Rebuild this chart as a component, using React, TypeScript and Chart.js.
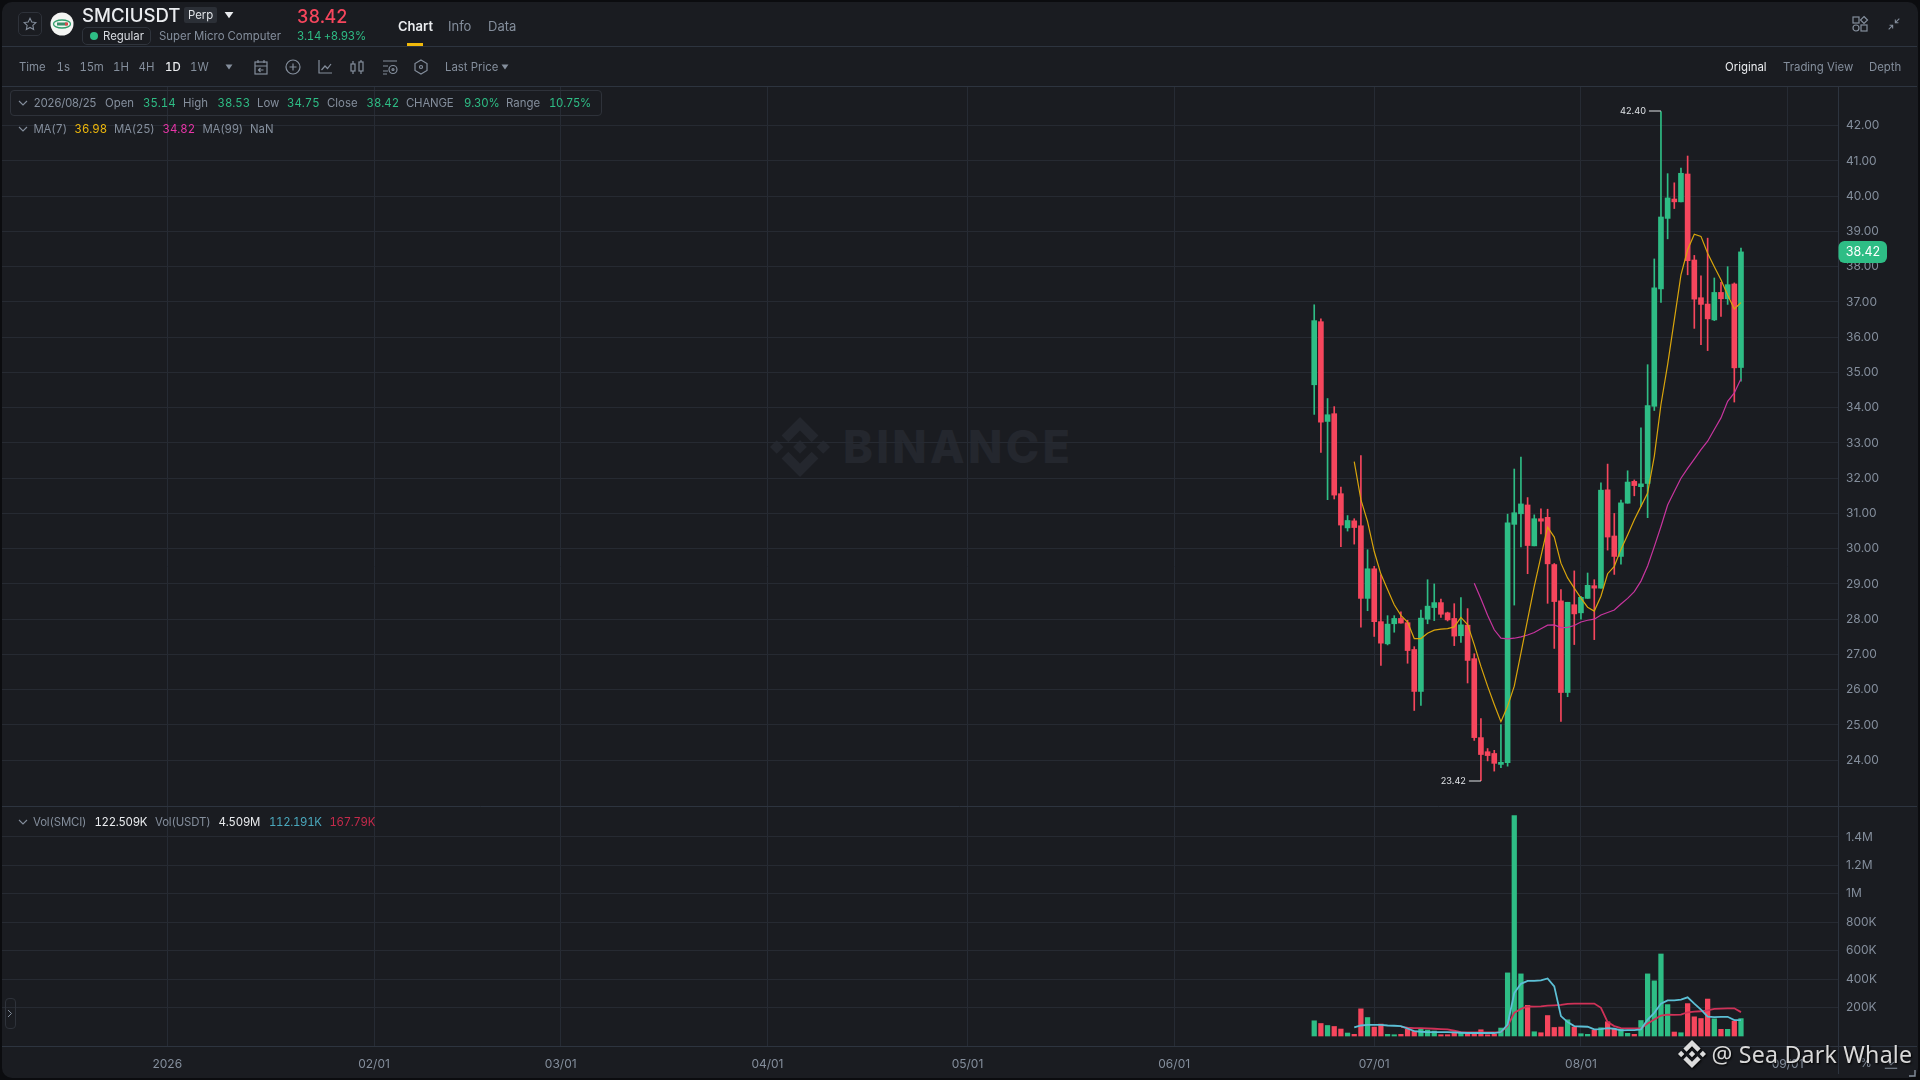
import React, { useEffect, useRef } from "react";
import { Chart, registerables } from "chart.js";

Chart.register(...registerables);

// ---- data ----
const firstCandleDay = 172; // days since 2026-01-01 (06/22)
const opens = [34.65,36.44,33.61,33.83,31.56,30.59,30.79,30.65,28.59,29.43,27.93,27.30,27.87,28.02,27.90,27.14,25.95,28.00,28.33,28.47,28.18,28.02,27.53,27.83,26.88,24.64,24.24,24.19,23.88,23.93,30.69,30.99,31.24,30.08,30.85,30.89,29.55,28.52,25.92,28.41,28.18,28.59,28.95,28.88,31.67,30.36,29.78,31.29,31.91,31.76,31.85,34.04,37.37,39.37,39.92,39.84,40.63,38.19,37.12,36.94,36.49,37.27,37.09,37.51,35.14];
const closes = [36.47,33.59,33.80,31.52,30.67,30.80,30.60,28.59,29.43,27.93,27.32,27.86,28.02,27.89,27.11,25.95,28.03,28.37,28.47,28.14,27.98,27.52,27.84,26.83,24.64,24.16,24.13,23.91,23.94,30.73,31.02,31.27,30.09,30.85,30.78,29.57,28.50,25.92,28.48,28.15,28.62,28.96,28.88,31.66,30.33,29.78,31.30,31.89,31.79,31.84,34.06,37.40,39.41,39.95,39.84,40.65,38.17,37.08,36.93,36.52,37.27,37.09,37.49,35.13,38.42];
const highs = [36.92,36.52,34.26,34.03,31.75,30.94,30.85,32.64,29.97,29.50,29.26,28.10,28.10,28.21,27.97,27.22,28.26,29.12,29.00,28.57,28.20,28.44,28.61,28.30,27.02,25.18,24.33,24.28,25.01,30.98,32.26,32.60,31.45,30.96,31.13,31.12,29.58,28.84,28.48,29.37,28.65,29.31,29.12,31.87,32.40,31.00,31.38,32.21,31.95,33.43,35.22,38.22,42.40,40.64,40.38,40.80,41.14,38.32,37.74,38.81,37.68,37.56,38.00,37.54,38.53];
const lows = [33.81,32.73,31.39,31.41,30.06,30.50,30.13,27.77,28.24,27.51,26.69,27.27,27.63,27.89,26.75,25.41,25.55,27.87,27.96,28.05,27.95,27.25,27.34,26.19,24.56,23.42,23.98,23.69,23.79,23.83,28.40,30.05,29.29,30.08,30.42,28.45,27.17,25.10,25.80,27.28,28.00,28.59,27.42,28.88,29.96,29.27,29.56,31.29,31.50,31.20,30.88,33.92,36.99,38.79,39.65,39.84,37.77,36.25,35.79,35.62,36.47,36.59,36.93,34.16,34.75];
const ma7 = [null,null,null,null,null,null,32.47,31.39,30.77,29.92,29.28,28.84,28.41,28.11,27.92,27.45,27.45,27.60,27.69,27.72,27.73,27.78,28.05,27.85,27.28,26.66,26.10,25.58,25.09,25.53,26.10,27.04,27.99,28.93,29.78,30.61,30.33,29.59,29.17,28.88,28.60,28.34,28.23,28.65,29.29,29.50,29.98,30.39,30.82,31.20,31.58,32.62,34.09,35.22,36.49,37.77,38.48,38.92,38.86,38.38,38.00,37.63,37.20,36.80,36.98];
const ma25 = [null,null,null,null,null,null,null,null,null,null,null,null,null,null,null,null,null,null,null,null,null,null,null,null,29.02,28.58,28.11,27.70,27.46,27.44,27.46,27.50,27.55,27.62,27.73,27.83,27.84,27.76,27.77,27.82,27.92,27.97,28.00,28.12,28.19,28.26,28.43,28.59,28.78,29.08,29.51,30.06,30.63,31.24,31.62,32.00,32.28,32.54,32.81,33.05,33.38,33.71,34.18,34.42,34.82];
const volumes = [107,88,74,67,49,21,12,191,130,63,84,12,9,12,47,35,47,42,35,9,9,28,23,19,23,44,9,14,56,444,1550,437,216,30,23,144,60,63,114,63,16,12,42,58,100,49,49,19,12,109,437,388,577,221,28,23,228,135,123,260,121,47,47,105,122.5];
const volMaFast = [null,null,null,null,null,null,60,74,79,79,79,74,72,70,53,35,30,28,28,28,28,26,23,21,21,21,21,21,28,81,302,367,388,388,391,405,349,140,98,70,67,65,47,49,56,51,40,42,42,47,116,163,228,251,251,256,272,228,186,137,133,135,135,112,112.2];
const volMaSlow = [null,null,null,null,null,null,null,null,null,null,null,null,null,65,58,56,56,53,51,49,47,37,28,26,26,26,26,26,28,70,163,191,209,207,209,214,216,219,226,228,228,228,228,198,98,70,56,53,53,53,88,116,144,151,149,151,167,172,174,181,191,193,195,195,167.8];
const priceTicks = [24,25,26,27,28,29,30,31,32,33,34,35,36,37,38,39,40,41,42];
const volTicks = [200,400,600,800,1000,1200,1400];
const volTickLabels = ["200K","400K","600K","800K","1M","1.2M","1.4M"];
const monthTicks = [0,31,59,90,120,151,181,212,243];
const monthLabels = ["2026","02/01","03/01","04/01","05/01","06/01","07/01","08/01","09/01"];
const lastPrice = 38.42;

const UP = "#2ebd85";
const DOWN = "#f6465d";
const GRID = "#262a32";
const VGRID = "#262b34";
const RULE = "#2d343f";
const MUTED = "#848e9c";
const FONT = "Inter, 'Noto Sans', sans-serif";

const candleColors = closes.map((c, i) => (c >= opens[i] ? UP : DOWN));
const dayOf = (i: number) => firstCandleDay + i;
const series = (arr: (number | null)[]) => arr.map((v, i) => ({ x: dayOf(i), y: v }));

const extrasPlugin = {
  id: "extras",
  afterDraw(chart: any) {
    const { ctx, chartArea, scales } = chart;
    const x = scales.x, yp = scales.yPrice;
    ctx.save();
    // pane dividers and axis continuation
    ctx.strokeStyle = RULE;
    ctx.lineWidth = 1;
    ctx.beginPath();
    const dividerY = Math.round(yp.bottom) + 0.5;
    ctx.moveTo(chartArea.left, dividerY); ctx.lineTo(chart.width - 3, dividerY);
    ctx.moveTo(chartArea.left, chartArea.bottom + 0.5); ctx.lineTo(chart.width - 3, chartArea.bottom + 0.5);
    ctx.moveTo(chartArea.right + 0.5, chartArea.bottom); ctx.lineTo(chartArea.right + 0.5, chart.height - 6);
    ctx.stroke();
    // high / low marks
    const hi = highs.indexOf(Math.max(...highs));
    const lo = lows.indexOf(Math.min(...lows));
    ctx.font = `9.2px ${FONT}`;
    ctx.textBaseline = "middle";
    ctx.textAlign = "right";
    ctx.fillStyle = "#dfe2e6";
    ctx.strokeStyle = "#dfe2e6";
    [[hi, highs[hi], -1], [lo, lows[lo], 0]].forEach(([i, v, nudge]) => {
      const px = x.getPixelForValue(dayOf(i));
      const py = Math.floor(yp.getPixelForValue(v)) + 0.5 + nudge + 0.5;
      ctx.beginPath(); ctx.moveTo(px, py); ctx.lineTo(px - 12, py); ctx.stroke();
      ctx.fillText(v.toFixed(2), px - 15, py + 0.5);
    });
    // last-price tag
    const tagY = yp.getPixelForValue(lastPrice);
    ctx.fillStyle = UP;
    ctx.beginPath();
    ctx.roundRect(chartArea.right + 0.5, tagY - 11, 48.5, 22, 6);
    ctx.fill();
    ctx.fillStyle = "#ffffff";
    ctx.textAlign = "center";
    ctx.font = `12.5px ${FONT}`;
    ctx.fillText(lastPrice.toFixed(2), chartArea.right + 25, tagY + 0.5);
    ctx.restore();
  },
};

const T = ({ x, y, c = MUTED, s = 11.4, w = 400, f = FONT, children, ls }: any) => (
  <div style={{ position: "absolute", left: x, top: y, transform: "translateY(-50%)", color: c, fontSize: s, fontWeight: w, fontFamily: f, whiteSpace: "nowrap", lineHeight: 1, letterSpacing: ls, fontVariantNumeric: "tabular-nums" }}>{children}</div>
);

const Box = ({ x, y, w, h, b, bg, r = 0 }: any) => (
  <div style={{ position: "absolute", left: x, top: y, width: w, height: h, boxSizing: "border-box", border: b ? `1px solid ${b}` : undefined, background: bg, borderRadius: r }} />
);

const Caret = ({ x, y, c = MUTED, s = 4 }: any) => (
  <svg style={{ position: "absolute", left: x - s, top: y - s }} width={s * 2} height={s * 2} viewBox="0 0 8 8"><path d="M0.5 1.5H7.5L4 6.5Z" fill={c} /></svg>
);

const Chevron = ({ x, y }: any) => (
  <svg style={{ position: "absolute", left: x - 5, top: y - 4 }} width="10" height="8" viewBox="0 0 10 8"><path d="M1 2L5 6L9 2" stroke={MUTED} strokeWidth="1.1" fill="none" /></svg>
);

const Icon = ({ x, y, size = 18, children, stroke = MUTED }: any) => (
  <svg style={{ position: "absolute", left: x - size / 2, top: y - size / 2 }} width={size} height={size} viewBox="0 0 18 18" fill="none" stroke={stroke} strokeWidth="1.2">{children}</svg>
);

const BinanceMark = ({ x, y, size, fill, style }: any) => (
  <svg style={{ position: "absolute", left: x, top: y, ...style }} width={size} height={size} viewBox="0 0 126.61 126.61" fill={fill}>
    <path d="M38.73 53.2l24.59-24.58 24.6 24.6 14.3-14.31L63.32 0 24.42 38.9l14.31 14.3z" />
    <path d="M0 63.31l14.3-14.31 14.31 14.31-14.31 14.3z" />
    <path d="M38.73 73.41l24.59 24.59 24.6-24.6 14.31 14.29-38.9 38.91-38.91-38.88-.02-.02z" />
    <path d="M98 63.31l14.3-14.31 14.31 14.3-14.31 14.32z" />
    <path d="M77.83 63.3L63.32 48.78 52.59 59.51l-1.24 1.23-2.54 2.54 14.51 14.5 14.51-14.47z" />
  </svg>
);

export default function App() {
  const ref = useRef<HTMLCanvasElement | null>(null);
  useEffect(() => {
    document.body.style.margin = "0";
    const chart = new Chart(ref.current as HTMLCanvasElement, {
      type: "bar",
      data: {
        datasets: [
          { type: "line", label: "MA(7)", data: series(ma7), yAxisID: "yPrice", borderColor: "#d9a50c", borderWidth: 1.2, pointRadius: 0, order: 1 },
          { type: "line", label: "MA(25)", data: series(ma25), yAxisID: "yPrice", borderColor: "#c8359f", borderWidth: 1.2, pointRadius: 0, order: 1 },
          { type: "line", label: "Vol MA fast", data: series(volMaFast), yAxisID: "yVol", borderColor: "#5cc0d6", borderWidth: 1.8, pointRadius: 0, order: 1 },
          { type: "line", label: "Vol MA slow", data: series(volMaSlow), yAxisID: "yVol", borderColor: "#cf3157", borderWidth: 1.8, pointRadius: 0, order: 2 },
          { label: "Body", data: opens.map((o, i) => ({ x: dayOf(i), y: [o, closes[i]] })), yAxisID: "yPrice", backgroundColor: candleColors, barThickness: 5, grouped: false, borderWidth: 0, order: 4 },
          { label: "Wick", data: highs.map((h, i) => ({ x: dayOf(i), y: [lows[i], h] })), yAxisID: "yPrice", backgroundColor: candleColors, barThickness: 1, grouped: false, borderWidth: 0, order: 5 },
          { label: "Volume", data: series(volumes), yAxisID: "yVol", backgroundColor: candleColors, barThickness: 4.6, grouped: false, borderWidth: 0, order: 4 },
        ],
      } as any,
      options: {
        animation: false,
        responsive: false,
        devicePixelRatio: 1,
        layout: { padding: { left: 2, top: 87, right: 3, bottom: 2 } },
        plugins: { legend: { display: false }, tooltip: { enabled: false } },
        elements: { line: { tension: 0 } },
        scales: {
          x: {
            type: "linear", min: -24.79, max: 250.55, offset: false,
            grid: { color: VGRID, drawTicks: false, offset: false },
            border: { color: RULE },
            afterFit: (s: any) => { s.height = 32; },
            afterBuildTicks: (s: any) => { s.ticks = monthTicks.map((value) => ({ value })); },
            ticks: { autoSkip: false, maxRotation: 0, padding: 11, color: MUTED, font: { family: FONT, size: 12 }, callback: (v: any) => monthLabels[monthTicks.indexOf(v)] },
          },
          yPrice: {
            type: "linear", position: "right", stack: "panes", stackWeight: 719, min: 22.7, max: 43.098,
            grid: { color: GRID, drawTicks: false },
            border: { color: RULE },
            afterFit: (s: any) => { s.width = 79; },
            afterBuildTicks: (s: any) => { s.ticks = priceTicks.map((value) => ({ value })); },
            ticks: { padding: 8, color: MUTED, font: { family: FONT, size: 12 }, callback: (v: any) => Number(v).toFixed(2) },
          },
          yVol: {
            type: "linear", position: "right", stack: "panes", stackWeight: 240, min: -70.3, max: 1618,
            grid: { color: GRID, drawTicks: false },
            border: { color: RULE },
            afterFit: (s: any) => { s.width = 79; },
            afterBuildTicks: (s: any) => { s.ticks = volTicks.map((value) => ({ value })); },
            ticks: { padding: 8, color: MUTED, font: { family: FONT, size: 12 }, callback: (v: any) => volTickLabels[volTicks.indexOf(v)] },
          },
        },
      } as any,
      plugins: [extrasPlugin],
    });
    return () => chart.destroy();
  }, []);

  return (
    <div style={{ position: "fixed", left: 0, top: 0, width: 1920, height: 1080, background: "#0b0c0f", overflow: "hidden" }}>
      <div style={{ position: "absolute", left: 2, top: 2, width: 1915.5, height: 1076, background: "#1a1c21", borderRadius: 10 }} />

      {/* faint exchange mark under the grid */}
      <BinanceMark x={770} y={417} size={60} fill="#24272e" />
      <svg style={{ position: "absolute", left: 840, top: 420 }} width="240" height="50">
        <text x="3" y="43" fontFamily="Inter" fontWeight="800" fontSize="45" fill="#24272e" textLength="227">BINANCE</text>
      </svg>

      <canvas ref={ref} width={1920} height={1080} style={{ position: "absolute", left: 0, top: 0, width: 1920, height: 1080 }} />

      {/* header */}
      <Box x={18} y={12} w={24} h={24} b="#2e323a" r={5} />
      <Icon x={30} y={24} size={16}><path d="M9 2.5l2 4.3 4.6.6-3.4 3.2.9 4.6L9 12.9l-4.1 2.3.9-4.6L2.4 7.4 7 6.8z" /></Icon>
      <svg style={{ position: "absolute", left: 50, top: 12 }} width="24" height="24" viewBox="0 0 24 24">
        <circle cx="12" cy="12" r="11.5" fill="#f4f5f3" />
        <ellipse cx="12" cy="12" rx="8.5" ry="4" fill="none" stroke="#2e9e6a" strokeWidth="1.3" />
        <rect x="7" y="10.5" width="10" height="3" fill="#3a8f6b" />
        <rect x="15" y="10.5" width="3" height="3" fill="#d84a4a" />
      </svg>
      <T x={82} y={15} c="#eaecef" s={18.6} w={500}>SMCIUSDT</T>
      <Box x={184} y={7} w={33} h={16} bg="#2b2f36" r={2} />
      <T x={188} y={15.5} c="#dfe2e6" s={11.4}>Perp</T>
      <Caret x={229} y={15} c="#eaecef" s={5} />
      <T x={297} y={17} c={DOWN} s={18} w={500} ls={-0.2}>38.42</T>
      <Box x={82} y={27} w={69} h={18} b="#2f343c" r={5} />
      <svg style={{ position: "absolute", left: 89, top: 31 }} width="10" height="10"><circle cx="5" cy="5" r="4" fill={UP} /></svg>
      <T x={103} y={36.5} c="#d8dbe0">Regular</T>
      <T x={159} y={36.5}>Super Micro Computer</T>
      <T x={297} y={36.5} c={UP} ls={-0.3}>3.14 +8.93%</T>
      <T x={398} y={26} c="#eaecef" s={13} w={600}>Chart</T>
      <Box x={407} y={43} w={16} h={3} bg="#f0b90b" />
      <T x={448} y={26} s={13}>Info</T>
      <T x={488} y={26} s={13}>Data</T>
      <Box x={2} y={46} w={1915} h={1} bg={RULE} />
      <Icon x={1860} y={24} size={18}>
        <rect x="2" y="2" width="6" height="6" /><path d="M13 1.5l3.5 3.5L13 8.5 9.5 5z" /><circle cx="5" cy="13" r="3" /><rect x="10" y="10" width="6" height="6" />
      </Icon>
      <Icon x={1894} y={24} size={16}>
        <path d="M15 3L10.5 7.5M10.5 4v3.5H14" /><path d="M3 15L7.5 10.5M7.5 14v-3.5H4" />
      </Icon>

      {/* toolbar */}
      <T x={19} y={67.5}>Time</T>
      <T x={56.5} y={67.5}>1s</T>
      <T x={79.5} y={67.5} ls={-0.2}>15m</T>
      <T x={113} y={67.5}>1H</T>
      <T x={138.5} y={67.5}>4H</T>
      <T x={165} y={67.5} c="#eaecef" w={500}>1D</T>
      <T x={190} y={67.5}>1W</T>
      <Caret x={229} y={67} />
      <Icon x={261} y={67}>
        <rect x="3" y="4" width="12" height="12" /><path d="M3 8h12M6 2v3M12 2v3M11.5 12H6.5M8.5 10l-2 2 2 2" />
      </Icon>
      <Icon x={293} y={67}><circle cx="9" cy="9" r="7" /><path d="M9 5.5v7M5.5 9h7" /></Icon>
      <Icon x={325} y={67}><path d="M3 2v13h13M5.5 12l3.5-4 2.5 2.5L15 6" /></Icon>
      <Icon x={357} y={67}>
        <rect x="3" y="6" width="4" height="7" /><rect x="11" y="4" width="4" height="9" /><path d="M5 3v3M5 13v3M13 2v2M13 13v3" />
      </Icon>
      <Icon x={389.5} y={67}>
        <path d="M2 3h14M2 8h5M2 13h5M2 16h4" /><circle cx="12" cy="11.5" r="4" /><circle cx="12" cy="11.5" r="1" />
      </Icon>
      <Icon x={421} y={67}><path d="M9 2l6 3.5v7L9 16l-6-3.5v-7z" /><circle cx="9" cy="9" r="1.5" /></Icon>
      <T x={445} y={67.5}>Last Price</T>
      <Caret x={505} y={67} />
      <T x={1725} y={67.5} c="#eaecef">Original</T>
      <T x={1783} y={67.5}>Trading View</T>
      <T x={1869} y={67.5}>Depth</T>
      <Box x={2} y={86} w={1915} h={1} bg={RULE} />

      {/* OHLC box */}
      <Box x={10} y={90} w={592} h={26} b="#2e323a" r={4} />
      <Chevron x={23} y={103} />
      <T x={33.5} y={103.5} ls={-0.45}>2026/08/25</T>
      <T x={105} y={103.5}>Open</T>
      <T x={143} y={103.5} c={UP}>35.14</T>
      <T x={183} y={103.5}>High</T>
      <T x={217.5} y={103.5} c={UP}>38.53</T>
      <T x={257} y={103.5}>Low</T>
      <T x={287} y={103.5} c={UP}>34.75</T>
      <T x={327} y={103.5}>Close</T>
      <T x={366.5} y={103.5} c={UP}>38.42</T>
      <T x={406} y={103.5} ls={-0.2}>CHANGE</T>
      <T x={464} y={103.5} c={UP} ls={-0.2}>9.30%</T>
      <T x={506} y={103.5}>Range</T>
      <T x={549} y={103.5} c={UP} ls={-0.3}>10.75%</T>

      {/* MA legend */}
      <Chevron x={23} y={129} />
      <T x={33.5} y={129.5} ls={-0.2}>MA(7)</T>
      <T x={74.5} y={129.5} c="#f0b90b">36.98</T>
      <T x={114} y={129.5} ls={-0.2}>MA(25)</T>
      <T x={162.5} y={129.5} c="#e835a8">34.82</T>
      <T x={202.5} y={129.5} ls={-0.2}>MA(99)</T>
      <T x={250} y={129.5}>NaN</T>

      {/* volume legend */}
      <Chevron x={23} y={822} />
      <T x={33} y={822.5} ls={-0.15}>Vol(SMCI)</T>
      <T x={94.5} y={822.5} c="#eaecef" ls={-0.3}>122.509K</T>
      <T x={155} y={822.5} ls={-0.15}>Vol(USDT)</T>
      <T x={218.5} y={822.5} c="#eaecef" ls={-0.2}>4.509M</T>
      <T x={269} y={822.5} c="#4aa8bd" ls={-0.3}>112.191K</T>
      <T x={329.5} y={822.5} c="#c42a4b" ls={-0.3}>167.79K</T>

      {/* side handle */}
      <Box x={4.5} y={998} w={11} h={31} b="#2e323a" r={4} />
      <svg style={{ position: "absolute", left: 7, top: 1009 }} width="6" height="9"><path d="M1 1L4.5 4.5L1 8" stroke={MUTED} fill="none" /></svg>

      {/* bottom-right controls */}
      <T x={1860} y={1063} s={12}>%</T>
      <Icon x={1891} y={1063} size={16}><path d="M9 3v8M6 8l3 3 3-3M2 15h14" /></Icon>
      <svg style={{ position: "absolute", left: 1908, top: 1069 }} width="8" height="8"><path d="M7 1v6H1" stroke={MUTED} strokeWidth="1.4" fill="none" /></svg>

      {/* author watermark */}
      <BinanceMark x={1678} y={1040} size={28} fill="#dcdcdc" style={{ filter: "drop-shadow(1px 1px 1px #000)" }} />
      <T x={1711.5} y={1054.5} c="#d8d8d8" s={23.2} f="'Noto Sans', sans-serif" ls={0.2}>
        <span style={{ textShadow: "1px 1px 2px #000" }}>@ Sea Dark Whale</span>
      </T>
    </div>
  );
}
